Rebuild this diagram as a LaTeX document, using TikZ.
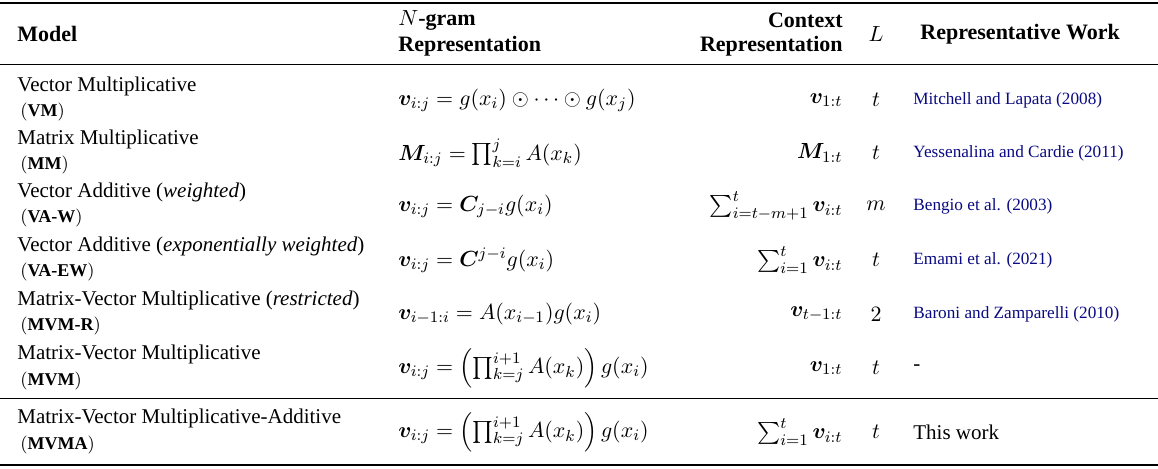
\documentclass[tikz,border=0pt]{standalone}
\usepackage{amsmath,bm}
\usepackage[no-math]{fontspec}
\setmainfont{Liberation Serif}
\definecolor{linkblue}{RGB}{10,10,130}
\begin{document}
\begin{tikzpicture}[x=0.5pt,y=-0.5pt,
  txt/.style={inner sep=0pt,font=\fontsize{11.3}{12}\selectfont},
  mtxt/.style={inner sep=0pt,anchor=west,font=\fontsize{10.5}{12}\selectfont},
  ref/.style={inner sep=0pt,anchor=west,text=linkblue,font=\fontsize{8.6}{10}\selectfont},
  hdr/.style={inner sep=0pt,font=\fontsize{11}{12}\selectfont\bfseries}]
\useasboundingbox (0,0) rectangle (1158,468);
\draw[line width=0.9pt] (0,3) -- (1158,3);
\draw[line width=0.5pt] (0,64) -- (1158,64);
\draw[line width=0.5pt] (0,398) -- (1158,398);
\draw[line width=0.9pt] (0,465) -- (1158,465);
% header
\node[hdr,anchor=west] (h1) at (17,34) {Model};
\node[hdr,anchor=west] (h2a) at (398,20) {$N$-gram};
\node[hdr,anchor=west] (h2b) at (398,46) {Representation};
\node[hdr,anchor=east] (h3a) at (843,20) {Context};
\node[hdr,anchor=east] (h3b) at (843,46) {Representation};
\node[txt] (h4) at (876,34) {$L$};
\node[hdr,anchor=west] (h5) at (920,34) {Representative Work};
% rows
\foreach \y/\a/\b/\f/\c/\l/\r [count=\i] in {
 100/{Vector Multiplicative}/{VM}/{\bm{v}_{i:j}=g(x_i)\odot\cdots\odot g(x_j)}/{\bm{v}_{1:t}}/{t}/{Mitchell and Lapata (2008)},
 153/{Matrix Multiplicative}/{MM}/{\bm{M}_{i:j}=\prod_{k=i}^{j}A(x_k)}/{\bm{M}_{1:t}}/{t}/{Yessenalina and Cardie (2011)},
 206/{Vector Additive (\textit{weighted})}/{VA-W}/{\bm{v}_{i:j}=\bm{C}_{j-i}g(x_i)}/{\sum_{i=t-m+1}^{t}\bm{v}_{i:t}}/{m}/{Bengio et al. (2003)},
 260/{Vector Additive (\textit{exponentially weighted})}/{VA-EW}/{\bm{v}_{i:j}=\bm{C}^{j-i}g(x_i)}/{\sum_{i=1}^{t}\bm{v}_{i:t}}/{t}/{Emami et al. (2021)},
 314/{Matrix-Vector Multiplicative (\textit{restricted})}/{MVM-R}/{\bm{v}_{i-1:i}=A(x_{i-1})g(x_i)}/{\bm{v}_{t-1:t}}/{2}/{Baroni and Zamparelli (2010)}}{
  \node[mtxt] (m\i) at (17,\y-14) {\a};
  \node[mtxt] (n\i) at (20,\y+12) {\small$\mathbf{(\text{\bfseries\b})}$};
  \node[txt,anchor=west] (f\i) at (398,\y) {$\f$};
  \node[txt,anchor=east] (c\i) at (843,\y) {$\c$};
  \node[txt] (l\i) at (876,\y) {$\l$};
  \node[ref] (r\i) at (913,\y) {\r};
}
\node[mtxt] (m6) at (17,354) {Matrix-Vector Multiplicative};
\node[mtxt] (n6) at (20,381) {\small$\mathbf{(\text{\bfseries MVM})}$};
\node[txt,anchor=west] (f6) at (398,368) {$\bm{v}_{i:j}=\left(\prod_{k=j}^{i+1}A(x_k)\right)g(x_i)$};
\node[txt,anchor=east] (c6) at (843,368) {$\bm{v}_{1:t}$};
\node[txt] (l6) at (876,368) {$t$};
\node[mtxt] (r6) at (913,368) {-};
\node[mtxt] (m7) at (17,418) {Matrix-Vector Multiplicative-Additive};
\node[mtxt] (n7) at (20,445) {\small$\mathbf{(\text{\bfseries MVMA})}$};
\node[txt,anchor=west] (f7) at (398,432) {$\bm{v}_{i:j}=\left(\prod_{k=j}^{i+1}A(x_k)\right)g(x_i)$};
\node[txt,anchor=east] (c7) at (843,432) {$\sum_{i=1}^{t}\bm{v}_{i:t}$};
\node[txt] (l7) at (876,432) {$t$};
\node[mtxt] (r7) at (913,432) {This work};
\end{tikzpicture}
\end{document}
